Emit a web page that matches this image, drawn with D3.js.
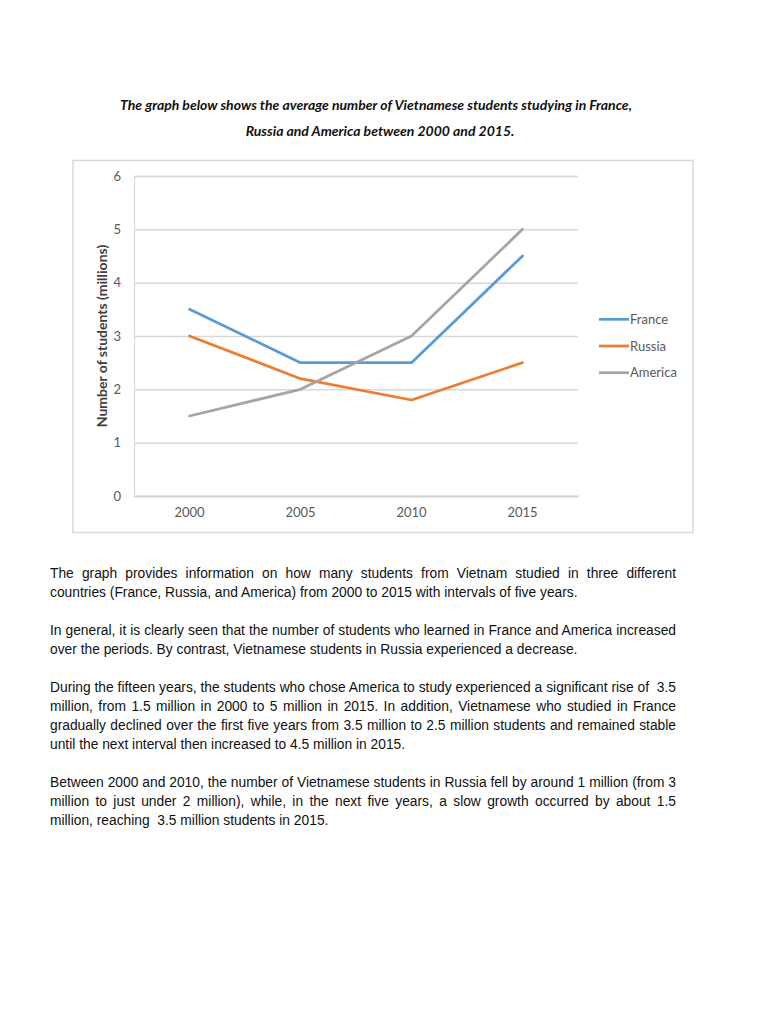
<!DOCTYPE html>
<html>
<head>
<meta charset="utf-8">
<script src="https://cdn.jsdelivr.net/npm/d3@7"></script>
<style>
  body { margin: 0; background: #fff; }
  svg { display: block; }
</style>
</head>
<body>
<div id="page"></div>
<script>
// data
var years = ["2000", "2005", "2010", "2015"];
var france = [3.5, 2.5, 2.5, 4.5];
var russia = [3, 2.2, 1.8, 2.5];
var america = [1.5, 2, 3, 5];
var seriesNames = ["France", "Russia", "America"];
var seriesColors = ["#5b9bd5", "#ed7d31", "#a5a5a5"];
var yTicks = [0, 1, 2, 3, 4, 5, 6];
var yTitle = "Number of students (millions)";

var titleLines = [
  "The graph below shows the average number of Vietnamese students studying in France,",
  "Russia and America between 2000 and 2015."
];

// each paragraph: lines as they wrap in the picture (last line not justified)
var paragraphs = [
  ["The graph provides information on how many students from Vietnam studied in three different",
   "countries (France, Russia, and America) from 2000 to 2015 with intervals of five years."],
  ["In general, it is clearly seen that the number of students who learned in France and America increased",
   "over the periods. By contrast, Vietnamese students in Russia experienced a decrease."],
  ["During the fifteen years, the students who chose America to study experienced a significant rise of  3.5",
   "million, from 1.5 million in 2000 to 5 million in 2015. In addition, Vietnamese who studied in France",
   "gradually declined over the first five years from 3.5 million to 2.5 million students and remained stable",
   "until the next interval then increased to 4.5 million in 2015."],
  ["Between 2000 and 2010, the number of Vietnamese students in Russia fell by around 1 million (from 3",
   "million to just under 2 million), while, in the next five years, a slow growth occurred by about 1.5",
   "million, reaching  3.5 million students in 2015."]
];

var W = 768, H = 1024;
var chartFont = "Lato, 'Open Sans', sans-serif";

var svg = d3.select("#page").append("svg")
    .attr("width", W)
    .attr("height", H);

svg.append("rect").attr("width", W).attr("height", H).attr("fill", "#fff");

// title
svg.append("g").selectAll("text")
    .data(titleLines)
    .enter()
    .append("text")
    .attr("x", function (d, i) { return i == 0 ? 376 : 380; })
    .attr("y", function (d, i) { return 110 + i * 26; })
    .attr("text-anchor", "middle")
    .style("font-family", chartFont)
    .style("font-weight", "bold")
    .style("font-style", "italic")
    .style("font-size", "14px")
    .attr("fill", "#111")
    .text(function (d) { return d; });

// chart frame
svg.append("rect")
    .attr("x", 73).attr("y", 160.5)
    .attr("width", 620).attr("height", 372)
    .attr("fill", "#fff")
    .attr("stroke", "#d9d9d9")
    .attr("stroke-width", 1.5);

var plot = { left: 134, right: 578, top: 176, bottom: 496 };

var x = d3.scaleBand()
    .domain(years)
    .range([plot.left, plot.right]);

var y = d3.scaleLinear()
    .domain([0, 6])
    .range([plot.bottom, plot.top]);

// gridlines
var yAxis = d3.axisLeft(y)
    .tickValues(yTicks)
    .tickSize(-(plot.right - plot.left))
    .tickPadding(13)
    .tickFormat(d3.format("d"));

var gy = svg.append("g")
    .attr("transform", "translate(" + plot.left + ",0)")
    .call(yAxis);
gy.select(".domain").attr("stroke", "#d9d9d9").attr("stroke-width", 1.3);
gy.selectAll(".tick line").attr("stroke", "#d9d9d9").attr("stroke-width", 1.5);
gy.selectAll(".tick text")
    .style("font-family", chartFont)
    .style("font-size", "13px")
    .attr("fill", "#595959");

var xAxis = d3.axisBottom(x).tickSize(0).tickPadding(12);
var gx = svg.append("g")
    .attr("transform", "translate(0," + plot.bottom + ")")
    .call(xAxis);
gx.select(".domain").attr("stroke", "#d0d0d0").attr("stroke-width", 1.5);
gx.selectAll(".tick text")
    .style("font-family", chartFont)
    .style("font-size", "13px")
    .attr("fill", "#595959");

// y axis title
svg.append("text")
    .attr("transform", "translate(106.5," + ((plot.top + plot.bottom) / 2) + ") rotate(-90)")
    .attr("text-anchor", "middle")
    .style("font-family", chartFont)
    .style("font-weight", "bold")
    .style("font-size", "14px")
    .attr("fill", "#404040")
    .text(yTitle);

// lines
var series = [france, russia, america];
var line = d3.line()
    .x(function (d, i) { return x(years[i]) + x.bandwidth() / 2; })
    .y(function (d) { return y(d); });

svg.append("g").selectAll("path")
    .data(series)
    .enter()
    .append("path")
    .attr("d", line)
    .attr("fill", "none")
    .attr("stroke", function (d, i) { return seriesColors[i]; })
    .attr("stroke-width", 2.75)
    .attr("stroke-linejoin", "round")
    .attr("stroke-linecap", "round");

// legend
var legend = svg.append("g").selectAll("g")
    .data(seriesNames)
    .enter()
    .append("g")
    .attr("transform", function (d, i) { return "translate(599," + (319.3 + i * 26.7) + ")"; });

legend.append("line")
    .attr("x1", 0).attr("x2", 30)
    .attr("stroke", function (d, i) { return seriesColors[i]; })
    .attr("stroke-width", 2.75);

legend.append("text")
    .attr("x", 31)
    .attr("dy", "0.35em")
    .style("font-family", chartFont)
    .style("font-size", "13px")
    .attr("fill", "#595959")
    .text(function (d) { return d; });

// body text, justified between textLeft and textRight
var textLeft = 50, textRight = 676, lineH = 19;
var body = svg.append("g")
    .style("font-family", "'Liberation Sans', Arial, sans-serif")
    .style("font-size", "13.8px")
    .attr("fill", "#111");

var yy = 578;
paragraphs.forEach(function (para) {
    para.forEach(function (txt, i) {
        var t = body.append("text")
            .attr("x", textLeft)
            .attr("y", yy)
            .style("white-space", "pre")
            .text(txt);
        if (i < para.length - 1) {
            var natural = t.node().getComputedTextLength();
            var spaces = txt.split(" ").length - 1;
            t.style("word-spacing", ((textRight - textLeft - natural) / spaces) + "px");
        }
        yy += lineH;
    });
    yy += lineH;
});
</script>
</body>
</html>
